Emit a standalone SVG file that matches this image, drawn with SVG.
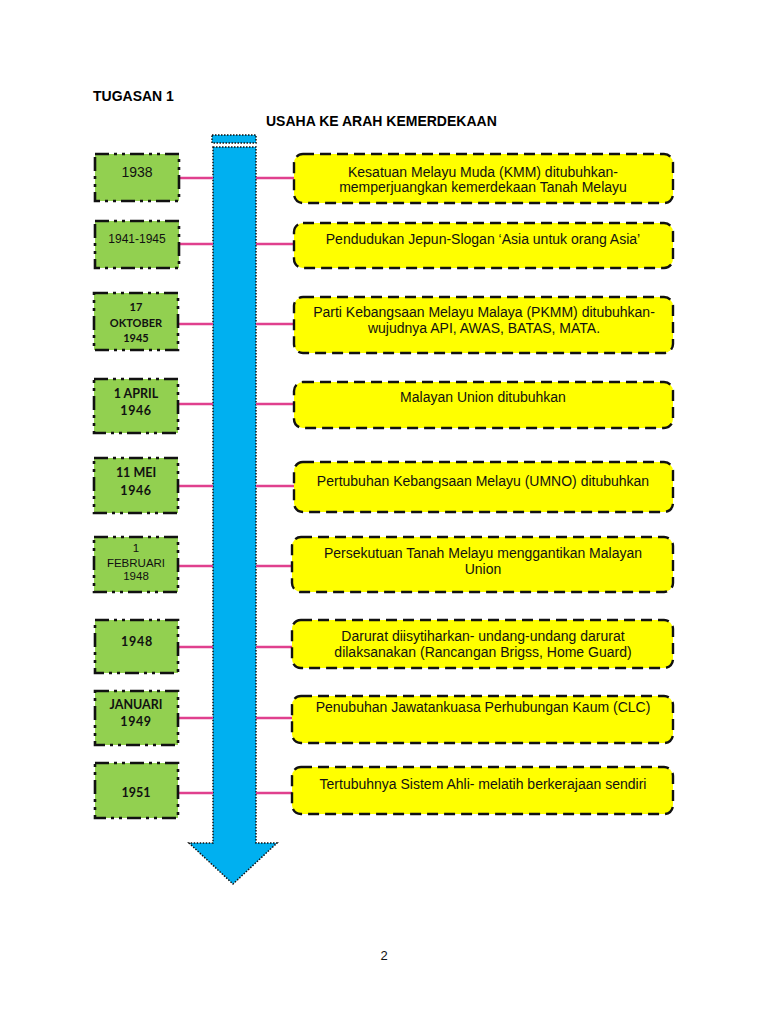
<svg xmlns="http://www.w3.org/2000/svg" width="768" height="1024" viewBox="0 0 768 1024">
<style>
.g{fill:#92d050;stroke:#111;stroke-width:2.6;stroke-dasharray:14 5 3 5 3 5}
.y{fill:#ffff00;stroke:#111;stroke-width:2.4;stroke-dasharray:11 6}
.c{stroke:#e0408e;stroke-width:2.4;fill:none}
.t{font-family:"Liberation Sans",Arial,sans-serif;font-size:14px;fill:#111;text-anchor:middle}
.a{font-family:"Liberation Sans",Arial,sans-serif;fill:#111;text-anchor:middle}
.b{font-family:Lato,"Open Sans",sans-serif;font-weight:bold;fill:#111;text-anchor:middle}
.h{font-family:"Liberation Sans",Arial,sans-serif;font-weight:bold;font-size:14px;fill:#000}
</style>
<rect width="768" height="1024" fill="#fff"/>
<text class="h" x="93" y="101">TUGASAN 1</text>
<text class="h" x="266" y="126">USAHA KE ARAH KEMERDEKAAN</text>
<text class="a" x="384" y="960" font-size="13">2</text>

<g id="arrow">
<rect x="212" y="135" width="44" height="8" fill="#00b0f0" stroke="#111" stroke-width="1.5" stroke-dasharray="1.5 1.5"/>
<path d="M213 147 H256 V843 H277 L233 884 L189 843 H213 Z" fill="#00b0f0" stroke="#111" stroke-width="1.5" stroke-dasharray="1.5 1.5"/>
</g>

<g id="connectors">
<path class="c" d="M179 178 H213 M256 178 H294"/>
<path class="c" d="M179 244 H213 M256 244 H294"/>
<path class="c" d="M178 324 H213 M256 324 H294"/>
<path class="c" d="M178 404 H213 M256 404 H294"/>
<path class="c" d="M178 486 H213 M256 486 H294"/>
<path class="c" d="M178 566 H213 M256 566 H293"/>
<path class="c" d="M178 647 H213 M256 647 H293"/>
<path class="c" d="M178 718 H213 M256 718 H293"/>
<path class="c" d="M178 793 H213 M256 793 H293"/>
</g>

<g id="d1938"><rect class="g" x="95" y="154" width="84" height="47"/><text class="a" x="137" y="177" font-size="14">1938</text></g>
<g id="d1941"><rect class="g" x="95" y="221" width="84" height="47"/><text class="a" x="137" y="243" font-size="12">1941-1945</text></g>
<g id="d1945"><rect class="g" x="94" y="293" width="84" height="57"/><text class="b" font-size="11"><tspan x="136" y="311">17</tspan><tspan x="136" y="327">OKTOBER</tspan><tspan x="136" y="342">1945</tspan></text></g>
<g id="dApr1946"><rect class="g" x="94" y="379" width="84" height="54"/><text class="b" font-size="12.5"><tspan x="136" y="398">1 APRIL</tspan><tspan x="136" y="415" letter-spacing="0.6">1946</tspan></text></g>
<g id="dMei1946"><rect class="g" x="94" y="458" width="84" height="55"/><text class="b" font-size="12.5"><tspan x="136" y="477">11 MEI</tspan><tspan x="136" y="495" letter-spacing="0.6">1946</tspan></text></g>
<g id="dFeb1948"><rect class="g" x="94" y="537" width="84" height="55"/><text class="a" font-size="11.5"><tspan x="136" y="552">1</tspan><tspan x="136" y="567">FEBRUARI</tspan><tspan x="136" y="580">1948</tspan></text></g>
<g id="d1948"><rect class="g" x="95" y="620" width="83" height="53"/><text class="b" font-size="12.5" letter-spacing="0.8"><tspan x="137" y="646">1948</tspan></text></g>
<g id="dJan1949"><rect class="g" x="95" y="691" width="83" height="54"/><text class="b" font-size="12.5"><tspan x="136" y="709">JANUARI</tspan><tspan x="136" y="726" letter-spacing="0.6">1949</tspan></text></g>
<g id="d1951"><rect class="g" x="95" y="763" width="83" height="55"/><text class="b" font-size="12.5"><tspan x="136" y="797">1951</tspan></text></g>

<g id="e1"><rect class="y" x="294" y="154" width="379" height="49" rx="9"/><text class="t"><tspan x="483" y="177">Kesatuan Melayu Muda (KMM) ditubuhkan-</tspan><tspan x="483" y="192">memperjuangkan kemerdekaan Tanah Melayu</tspan></text></g>
<g id="e2"><rect class="y" x="294" y="223" width="379" height="45" rx="9"/><text class="t" x="483" y="244">Pendudukan Jepun-Slogan ‘Asia untuk orang Asia’</text></g>
<g id="e3"><rect class="y" x="294" y="297" width="379" height="56" rx="9"/><text class="t"><tspan x="484" y="317">Parti Kebangsaan Melayu Malaya (PKMM) ditubuhkan-</tspan><tspan x="484" y="333">wujudnya API, AWAS, BATAS, MATA.</tspan></text></g>
<g id="e4"><rect class="y" x="294" y="382" width="379" height="46" rx="9"/><text class="t" x="483" y="402">Malayan Union ditubuhkan</text></g>
<g id="e5"><rect class="y" x="294" y="462" width="379" height="50" rx="9"/><text class="t" x="483" y="486">Pertubuhan Kebangsaan Melayu (UMNO) ditubuhkan</text></g>
<g id="e6"><rect class="y" x="292" y="537" width="381" height="55" rx="9"/><text class="t"><tspan x="483" y="558">Persekutuan Tanah Melayu menggantikan Malayan</tspan><tspan x="483" y="574">Union</tspan></text></g>
<g id="e7"><rect class="y" x="292" y="620" width="381" height="48" rx="9"/><text class="t"><tspan x="483" y="641">Darurat diisytiharkan- undang-undang darurat</tspan><tspan x="483" y="657">dilaksanakan (Rancangan Brigss, Home Guard)</tspan></text></g>
<g id="e8"><rect class="y" x="292" y="696" width="381" height="47" rx="9"/><text class="t" x="483" y="712">Penubuhan Jawatankuasa Perhubungan Kaum (CLC)</text></g>
<g id="e9"><rect class="y" x="292" y="767" width="381" height="47" rx="9"/><text class="t" x="483" y="789">Tertubuhnya Sistem Ahli- melatih berkerajaan sendiri</text></g>
</svg>
